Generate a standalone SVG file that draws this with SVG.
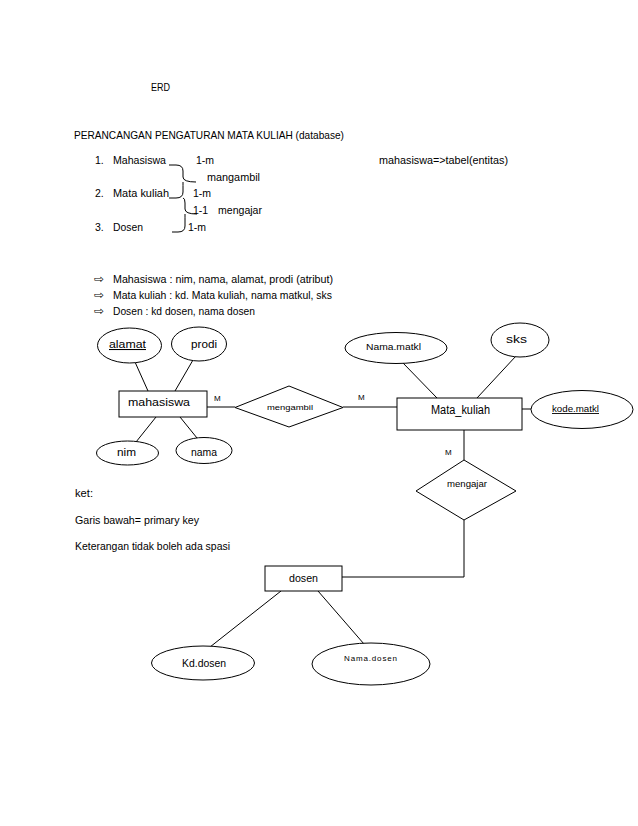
<svg xmlns="http://www.w3.org/2000/svg" width="638" height="826" viewBox="0 0 638 826">
<style>
text{font-family:"Liberation Sans",Arial,sans-serif;fill:#000}
.t{font-size:10.5px}
.s{font-size:8px}
.ar{font-family:"DejaVu Sans",sans-serif;font-size:12px}
.sh{fill:#fff;stroke:#000;stroke-width:1}
.ln{fill:none;stroke:#000;stroke-width:1}
</style>
<rect width="638" height="826" fill="#fff"/>
<g id="header">
<text class="t" x="151" y="91" textLength="19" lengthAdjust="spacingAndGlyphs">ERD</text>
<text class="t" x="74" y="139" textLength="270" lengthAdjust="spacingAndGlyphs">PERANCANGAN PENGATURAN MATA KULIAH   (database)</text>
<text class="t" x="95" y="164">1.</text>
<text class="t" x="113" y="164" textLength="53" lengthAdjust="spacingAndGlyphs">Mahasiswa</text>
<text class="t" x="196" y="164">1-m</text>
<text class="t" x="207" y="181" textLength="53" lengthAdjust="spacingAndGlyphs">mangambil</text>
<text class="t" x="95" y="197">2.</text>
<text class="t" x="113" y="197" textLength="56" lengthAdjust="spacingAndGlyphs">Mata kuliah</text>
<text class="t" x="193" y="197">1-m</text>
<text class="t" x="193" y="214">1-1</text>
<text class="t" x="218" y="214" textLength="44" lengthAdjust="spacingAndGlyphs">mengajar</text>
<text class="t" x="95" y="231">3.</text>
<text class="t" x="113" y="231" textLength="30" lengthAdjust="spacingAndGlyphs">Dosen</text>
<text class="t" x="188" y="231">1-m</text>
<text class="t" x="379" y="164" textLength="129" lengthAdjust="spacingAndGlyphs">mahasiswa=&gt;tabel(entitas)</text>
<path class="ln" d="M169,165 H176 Q183,165 183,171 V177 Q183,182 196,182 M183,182 Q183,186 183,188 V192 Q183,198 176,198 H169"/>
<path class="ln" d="M183,198 Q185,198 185,203 V209 Q185,214 197,214 M185,214 Q185,218 185,221 V226 Q185,232 178,232 H172"/>
<text class="ar" x="94" y="283">⇨</text>
<text class="t" x="113" y="283" textLength="220" lengthAdjust="spacingAndGlyphs">Mahasiswa : nim, nama, alamat, prodi (atribut)</text>
<text class="ar" x="94" y="299">⇨</text>
<text class="t" x="113" y="299" textLength="219" lengthAdjust="spacingAndGlyphs">Mata kuliah : kd. Mata kuliah, nama matkul, sks</text>
<text class="ar" x="94" y="315">⇨</text>
<text class="t" x="113" y="315" textLength="142" lengthAdjust="spacingAndGlyphs">Dosen : kd dosen, nama dosen</text>
<text class="t" x="75" y="497" textLength="18" lengthAdjust="spacingAndGlyphs">ket:</text>
<text class="t" x="75" y="524" textLength="124" lengthAdjust="spacingAndGlyphs">Garis bawah= primary key</text>
<text class="t" x="75" y="550" textLength="155" lengthAdjust="spacingAndGlyphs">Keterangan tidak boleh ada spasi</text>
</g>
<g id="connectors">
<line class="ln" x1="135" y1="362" x2="148" y2="391"/>
<line class="ln" x1="193" y1="360" x2="175" y2="391"/>
<line class="ln" x1="156" y1="417" x2="136" y2="442"/>
<line class="ln" x1="180" y1="417" x2="197" y2="438"/>
<line class="ln" x1="207" y1="407" x2="235" y2="407"/>
<line class="ln" x1="343" y1="407" x2="397" y2="407"/>
<line class="ln" x1="403" y1="363" x2="437" y2="398"/>
<line class="ln" x1="516" y1="356" x2="477" y2="398"/>
<line class="ln" x1="522" y1="409" x2="531" y2="409"/>
<line class="ln" x1="464" y1="430" x2="464" y2="460"/>
<polyline class="ln" points="464,520 464,577 342,577"/>
<line class="ln" x1="281" y1="591" x2="210" y2="647"/>
<line class="ln" x1="318" y1="591" x2="364" y2="644"/>
<text class="s" x="214" y="401">M</text>
<text class="s" x="358" y="400">M</text>
<text class="s" x="445" y="455">M</text>
</g>
<g id="n-mahasiswa">
<rect class="sh" x="119" y="391" width="88" height="26"/>
<text class="t" x="128" y="406" textLength="62" lengthAdjust="spacingAndGlyphs">mahasiswa</text>
</g>
<g id="n-alamat">
<ellipse class="sh" cx="129.5" cy="345.5" rx="32" ry="17.5"/>
<text class="t" x="109" y="348" textLength="37" lengthAdjust="spacingAndGlyphs" text-decoration="underline">alamat</text>
</g>
<g id="n-prodi">
<ellipse class="sh" cx="199" cy="344" rx="27.5" ry="17"/>
<text class="t" x="191" y="348" textLength="26" lengthAdjust="spacingAndGlyphs">prodi</text>
</g>
<g id="n-nim">
<ellipse class="sh" cx="127.5" cy="453" rx="31" ry="12"/>
<text class="t" x="117" y="456" textLength="19" lengthAdjust="spacingAndGlyphs">nim</text>
</g>
<g id="n-nama">
<ellipse class="sh" cx="204" cy="450.5" rx="28" ry="13"/>
<text class="t" x="191" y="456" textLength="26" lengthAdjust="spacingAndGlyphs">nama</text>
</g>
<g id="n-mengambil">
<polygon class="sh" points="235,407.5 289,386 343,407.5 289,427"/>
<text class="s" x="267" y="410" textLength="46" lengthAdjust="spacingAndGlyphs">mengambil</text>
</g>
<g id="n-mata-kuliah">
<rect class="sh" x="397" y="398" width="125" height="32"/>
<text x="431" y="414" font-size="12" textLength="59" lengthAdjust="spacingAndGlyphs">Mata_kuliah</text>
</g>
<g id="n-nama-matkl">
<ellipse class="sh" cx="396" cy="348" rx="51" ry="15.5"/>
<text x="366" y="350" font-size="9" textLength="55" lengthAdjust="spacingAndGlyphs">Nama.matkl</text>
</g>
<g id="n-sks">
<ellipse class="sh" cx="520" cy="340" rx="29" ry="17"/>
<text class="t" x="506" y="343" textLength="21" lengthAdjust="spacingAndGlyphs">sks</text>
</g>
<g id="n-kode-matkl">
<ellipse class="sh" cx="582" cy="409.5" rx="51" ry="19"/>
<text x="552" y="412" font-size="9" textLength="47" lengthAdjust="spacingAndGlyphs" text-decoration="underline">kode.matkl</text>
</g>
<g id="n-mengajar">
<polygon class="sh" points="464,460 516,491 464,520 416,491"/>
<text x="447" y="487" font-size="8.5" textLength="40" lengthAdjust="spacingAndGlyphs">mengajar</text>
</g>
<g id="n-dosen">
<rect class="sh" x="265" y="566" width="77" height="25"/>
<text class="t" x="289" y="582" textLength="29" lengthAdjust="spacingAndGlyphs">dosen</text>
</g>
<g id="n-kd-dosen">
<ellipse class="sh" cx="203" cy="663" rx="51.5" ry="17"/>
<text x="182" y="667" font-size="11" textLength="44" lengthAdjust="spacingAndGlyphs">Kd.dosen</text>
</g>
<g id="n-nama-dosen">
<ellipse class="sh" cx="371" cy="664" rx="59" ry="21"/>
<text x="344" y="661" font-size="8" textLength="53" lengthAdjust="spacing">Nama.dosen</text>
</g>
</svg>
